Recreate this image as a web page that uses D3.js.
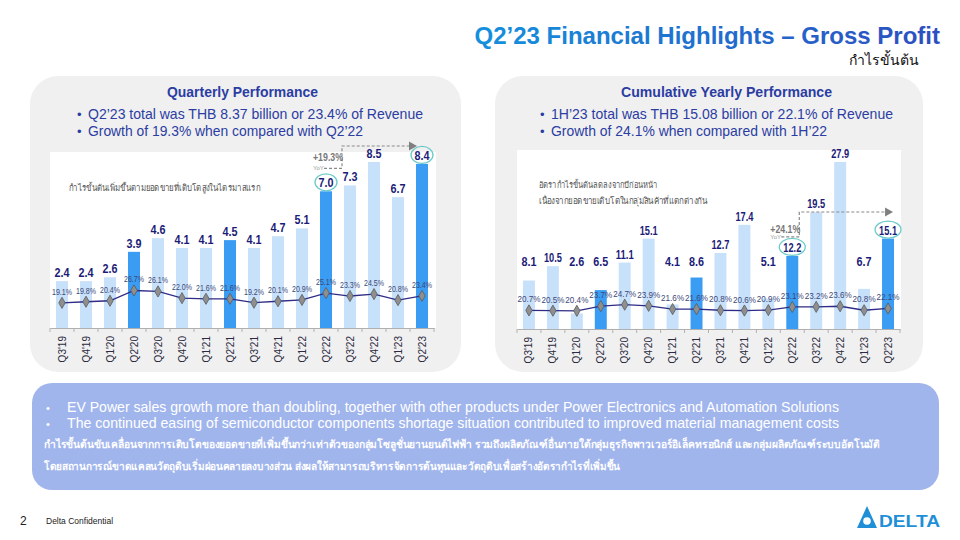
<!DOCTYPE html>
<html>
<head>
<meta charset="utf-8">
<script src="https://cdn.jsdelivr.net/npm/d3@7"></script>
<style>
  body { margin: 0; background: #fff; }
  svg { display: block; font-family: "Liberation Sans", Arial, sans-serif; }
</style>
</head>
<body>
<svg id="chart" width="960" height="540"></svg>
<script>
// quarter labels shared by both charts
const quarters = ["Q3'19", "Q4'19", "Q1'20", "Q2'20", "Q3'20", "Q4'20", "Q1'21", "Q2'21",
  "Q3'21", "Q4'21", "Q1'22", "Q2'22", "Q3'22", "Q4'22", "Q1'23", "Q2'23"];
const highlighted = ["Q2'20", "Q2'21", "Q2'22", "Q2'23"];
const circled = ["Q2'22", "Q2'23"];

// quarterly gross profit (THB bn) and margin (%)
const quarterlyGP = [2.4, 2.4, 2.6, 3.9, 4.6, 4.1, 4.1, 4.5, 4.1, 4.7, 5.1, 7.0, 7.3, 8.5, 6.7, 8.4];
const quarterlyMargin = [19.1, 19.8, 20.4, 26.7, 26.1, 22.0, 21.6, 21.6, 19.2, 20.1, 20.9, 25.1, 23.3, 24.5, 20.8, 23.4];

// cumulative yearly gross profit (THB bn) and margin (%)
const cumulativeGP = [8.1, 10.5, 2.6, 6.5, 11.1, 15.1, 4.1, 8.6, 12.7, 17.4, 5.1, 12.2, 19.5, 27.9, 6.7, 15.1];
const cumulativeMargin = [20.7, 20.5, 20.4, 23.7, 24.7, 23.9, 21.6, 21.6, 20.8, 20.6, 20.9, 23.1, 23.2, 23.6, 20.8, 22.1];

const svg = d3.select("#chart");

// squeeze a text to a given width (the slide uses a narrow face)
function fit(sel, w) {
  return sel.attr("textLength", w).attr("lengthAdjust", "spacingAndGlyphs");
}

// title
const grad = svg.append("defs").append("linearGradient")
  .attr("id", "titleGrad").attr("gradientUnits", "userSpaceOnUse")
  .attr("x1", 476).attr("x2", 940).attr("y1", 0).attr("y2", 0);
grad.append("stop").attr("offset", "0%").attr("stop-color", "#1590dc");
grad.append("stop").attr("offset", "100%").attr("stop-color", "#2c4ec0");

svg.append("text")
  .attr("x", 940).attr("y", 44)
  .attr("text-anchor", "end")
  .attr("font-size", 24).attr("font-weight", "bold")
  .attr("fill", "url(#titleGrad)")
  .text("Q2\u201923 Financial Highlights \u2013 Gross Profit");

svg.append("text")
  .attr("x", 919).attr("y", 65)
  .attr("text-anchor", "end")
  .attr("font-size", 14).attr("fill", "#111")
  .text("กำไรขั้นต้น");

// panels
const panels = [
  { x0: 30, x1: 461, heading: "Quarterly Performance", hx: 167, hw: 151, bx: 77,
    bullets: ["Q2\u201923 total was THB 8.37 billion or 23.4% of Revenue", "Growth of 19.3% when compared with Q2\u201922"],
    bw: [335, 275] },
  { x0: 495, x1: 923, heading: "Cumulative Yearly Performance", hx: 621, hw: 211, bx: 540,
    bullets: ["1H\u201923 total was THB 15.08 billion or 22.1% of Revenue", "Growth of 24.1% when compared with 1H\u201922"],
    bw: [342, 276] }
];

panels.forEach(p => {
  svg.append("rect")
    .attr("x", p.x0).attr("y", 76)
    .attr("width", p.x1 - p.x0).attr("height", 296)
    .attr("rx", 28).attr("fill", "#f0f0f0");
  fit(svg.append("text")
    .attr("x", p.hx).attr("y", 97)
    .attr("font-size", 14).attr("font-weight", "bold")
    .attr("fill", "#2b3da3")
    .text(p.heading), p.hw);
  p.bullets.forEach((b, i) => {
    svg.append("text")
      .attr("x", p.bx).attr("y", 119 + i * 17)
      .attr("font-size", 13).attr("fill", "#2b3da3")
      .text("\u2022");
    fit(svg.append("text")
      .attr("x", p.bx + 11).attr("y", 119 + i * 17)
      .attr("font-size", 15).attr("fill", "#2b3da3")
      .text(b), p.bw[i]);
  });
});

function drawChart(cfg) {
  const g = svg.append("g");

  g.append("rect")
    .attr("x", cfg.plotX[0]).attr("y", cfg.plotTop)
    .attr("width", cfg.plotX[1] - cfg.plotX[0]).attr("height", cfg.base - cfg.plotTop)
    .attr("fill", "#fff");

  const x = d3.scaleBand().domain(quarters).range(cfg.xRange).paddingInner(0.5).paddingOuter(0.25);
  const y = d3.scaleLinear().domain([0, d3.max(cfg.values)]).range([cfg.base, cfg.maxTop]);
  const yPct = d3.scaleLinear().domain([0, 100]).range(cfg.pctRange);
  const cx = q => x(q) + x.bandwidth() / 2;

  const rows = quarters.map((q, i) => ({ q, v: cfg.values[i], m: cfg.margin[i] }));

  // note text in Thai
  cfg.notes.forEach((n, i) => {
    fit(g.append("text")
      .attr("x", cfg.noteX).attr("y", cfg.noteY + i * 16)
      .attr("font-size", 9).attr("fill", "#555")
      .text(n), cfg.noteW[i]);
  });

  // bars
  g.selectAll("rect.bar")
    .data(rows)
    .join("rect")
    .attr("class", "bar")
    .attr("x", d => x(d.q))
    .attr("width", x.bandwidth())
    .attr("y", d => y(d.v))
    .attr("height", d => cfg.base - y(d.v))
    .attr("fill", d => highlighted.includes(d.q) ? "#3a9cf3" : "#c8e1fa");

  // x axis
  const ax = g.append("g")
    .attr("transform", `translate(0,${cfg.base})`)
    .call(d3.axisBottom(x).tickSize(0).tickSizeOuter(0));
  ax.select(".domain").attr("stroke", "#b0b0b0");
  ax.selectAll(".tick text")
    .attr("font-size", 10)
    .attr("font-family", "Liberation Sans, Arial, sans-serif")
    .attr("fill", "#2a2a40")
    .attr("transform", "rotate(-90)")
    .attr("text-anchor", "end")
    .attr("x", -8).attr("y", 0).attr("dy", "0.35em");
  // separators at band edges
  g.selectAll("line.sep")
    .data(d3.range(quarters.length + 1))
    .join("line")
    .attr("class", "sep")
    .attr("x1", i => cfg.xRange[0] + i * x.step())
    .attr("x2", i => cfg.xRange[0] + i * x.step())
    .attr("y1", cfg.base).attr("y2", cfg.base + 4)
    .attr("stroke", "#b0b0b0");

  // value labels
  g.selectAll("text.val")
    .data(rows)
    .join("text")
    .attr("class", "val")
    .attr("x", d => cx(d.q))
    .attr("y", d => Math.min(y(d.v) - 4, cfg.labelFloor))
    .attr("text-anchor", "middle")
    .attr("font-size", 12).attr("font-weight", "bold")
    .attr("fill", "#1c1c78")
    .attr("textLength", d => d3.format(".1f")(d.v).length * 3 + 6)
    .attr("lengthAdjust", "spacingAndGlyphs")
    .text(d => d3.format(".1f")(d.v));

  // circles around latest quarters
  g.selectAll("ellipse.hl")
    .data(rows.filter(d => circled.includes(d.q)))
    .join("ellipse")
    .attr("class", "hl")
    .attr("cx", d => cx(d.q))
    .attr("cy", d => y(d.v) - 9)
    .attr("rx", d => d.v >= 10 ? 13 : 11).attr("ry", 8.5)
    .attr("fill", "none")
    .attr("stroke", "#6dcaca").attr("stroke-width", 1.3);

  // margin line
  const line = d3.line()
    .x(d => cx(d.q))
    .y(d => yPct(d.m));
  g.append("path")
    .datum(rows)
    .attr("d", line)
    .attr("fill", "none")
    .attr("stroke", "#2e2c86").attr("stroke-width", 1.3);

  g.selectAll("path.mk")
    .data(rows)
    .join("path")
    .attr("class", "mk")
    .attr("d", d3.symbol().type(d3.symbolDiamond).size(36))
    .attr("transform", d => `translate(${cx(d.q)},${yPct(d.m)})`)
    .attr("fill", "#8f8f8f").attr("stroke", "#5a5a5a").attr("stroke-width", 0.8);

  g.selectAll("text.pct")
    .data(rows)
    .join("text")
    .attr("class", "pct")
    .attr("x", d => cx(d.q))
    .attr("y", d => yPct(d.m) - 8)
    .attr("text-anchor", "middle")
    .attr("font-size", 8.5)
    .attr("fill", "#3c4878")
    .attr("textLength", cfg.pctW)
    .attr("lengthAdjust", "spacingAndGlyphs")
    .text(d => d3.format(".1f")(d.m) + "%");

  // YoY annotation
  const a = rows.find(d => d.q === "Q2'22");
  const b = rows.find(d => d.q === "Q2'23");
  const vx = cx(a.q) + cfg.arrowDx;
  const tip = cx(b.q) + cfg.tipDx;
  const yTop = cfg.arrowY;
  const yLow = y(a.v) + cfg.lowDy;
  g.append("path")
    .attr("d", `M${vx - 18},${yLow}H${vx}V${yTop}H${tip - 7}`)
    .attr("fill", "none")
    .attr("stroke", "#8a8a8a").attr("stroke-width", 1.2)
    .attr("stroke-dasharray", "3,2");
  g.append("path")
    .attr("d", `M${tip - 8},${yTop - 4.5}L${tip},${yTop}L${tip - 8},${yTop + 4.5}Z`)
    .attr("fill", "#7f7f7f");
  fit(g.append("text")
    .attr("x", vx - 29).attr("y", yLow + cfg.growthDy)
    .attr("font-size", 10.5).attr("font-weight", "bold")
    .attr("fill", "#777")
    .text(cfg.growth), 30);
  g.append("text")
    .attr("x", vx - 29).attr("y", yLow + 2)
    .attr("font-size", 6).attr("fill", "#999")
    .text("YoY");
}

drawChart({
  values: quarterlyGP, margin: quarterlyMargin,
  plotX: [50, 436], plotTop: 152, base: 328, maxTop: 162,
  xRange: [50, 434], pctRange: [334, 171], labelFloor: 400, pctW: 20,
  notes: ["กำไรขั้นต้นเพิ่มขึ้นตามยอดขายที่เติบโตสูงในไตรมาสแรก"], noteX: 69, noteY: 191, noteW: [191],
  arrowDx: 16, arrowY: 146, lowDy: -23, tipDx: -5, growth: "+19.3%", growthDy: -7
});

drawChart({
  values: cumulativeGP, margin: cumulativeMargin,
  plotX: [517, 901], plotTop: 150, base: 329, maxTop: 162,
  xRange: [517, 900], pctRange: [340, 197], labelFloor: 266, pctW: 23,
  notes: ["อัตรากำไรขั้นต้นลดลงจากปีก่อนหน้า", "เนื่องจากยอดขายเติบโตในกลุ่มสินค้าที่แตกต่างกัน"], noteX: 539, noteY: 188, noteW: [118, 168],
  arrowDx: 7, arrowY: 212, lowDy: -19, tipDx: 5, growth: "+24.1%", growthDy: -4
});

// bottom summary box
svg.append("rect")
  .attr("x", 32).attr("y", 383)
  .attr("width", 907).attr("height", 107)
  .attr("rx", 20).attr("fill", "#a1b5ed");

const summary = [
  "EV Power sales growth more than doubling, together with other products under Power Electronics and Automation Solutions",
  "The continued easing of semiconductor components shortage situation contributed to improved material management costs"
];
summary.forEach((s, i) => {
  svg.append("text")
    .attr("x", 46).attr("y", 412 + i * 16)
    .attr("font-size", 11).attr("fill", "#fff")
    .text("\u2022");
  fit(svg.append("text")
    .attr("x", 67).attr("y", 412 + i * 16)
    .attr("font-size", 14.5).attr("fill", "#fff")
    .text(s), 772);
});

const summaryThai = [
  "กำไรขั้นต้นขับเคลื่อนจากการเติบโตของยอดขายที่เพิ่มขึ้นกว่าเท่าตัวของกลุ่มโซลูชั่นยานยนต์ไฟฟ้า รวมถึงผลิตภัณฑ์อื่นภายใต้กลุ่มธุรกิจพาวเวอร์อิเล็คทรอนิกส์ และกลุ่มผลิตภัณฑ์ระบบอัตโนมัติ",
  "โดยสถานการณ์ขาดแคลนวัตถุดิบเริ่มผ่อนคลายลงบางส่วน ส่งผลให้สามารถบริหารจัดการต้นทุนและวัตถุดิบเพื่อสร้างอัตรากำไรที่เพิ่มขึ้น"
];
const thaiW = [836, 576];
summaryThai.forEach((s, i) => {
  fit(svg.append("text")
    .attr("x", 44).attr("y", 448 + i * 22)
    .attr("font-size", 10.5).attr("font-weight", "bold").attr("fill", "#fff")
    .text(s), thaiW[i]);
});

// footer
svg.append("text").attr("x", 20).attr("y", 525).attr("font-size", 12).attr("fill", "#222").text("2");
svg.append("text").attr("x", 46).attr("y", 524).attr("font-size", 8.5).attr("fill", "#222").text("Delta Confidential");

// logo
svg.append("path")
  .attr("d", "M857,528L867,506L877,528Z")
  .attr("fill", "#1f8fd8");
svg.append("circle").attr("cx", 867).attr("cy", 521).attr("r", 3.8).attr("fill", "#fff");
fit(svg.append("text")
  .attr("x", 879).attr("y", 527)
  .attr("font-size", 17).attr("font-weight", "bold")
  .attr("fill", "#1f8fd8")
  .text("DELTA"), 61);
</script>
</body>
</html>
